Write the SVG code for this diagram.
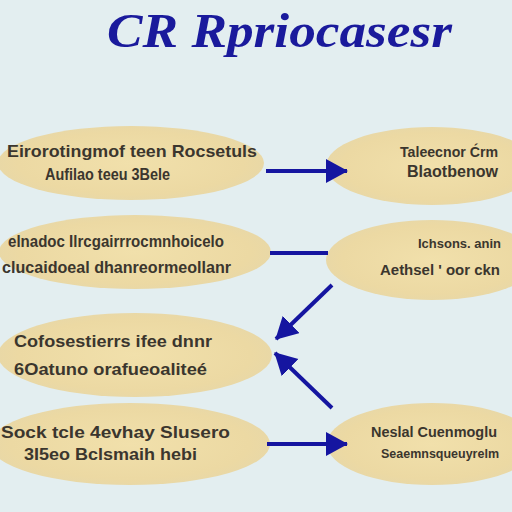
<svg xmlns="http://www.w3.org/2000/svg" width="512" height="512" viewBox="0 0 512 512">
<defs>
<radialGradient id="eg" cx="50%" cy="50%" r="50%">
<stop offset="0" stop-color="#f1e0ab"/>
<stop offset="0.85" stop-color="#ecd9a3"/>
<stop offset="1" stop-color="#e9d8a6"/>
</radialGradient>
<marker id="ah" markerUnits="userSpaceOnUse" markerWidth="24" markerHeight="26" refX="21" refY="12" orient="auto">
<path d="M0,0 L22,12 L0,24 z" fill="#1515a0"/>
</marker>
<style>
.bg{fill:#e3eef0}
.el{fill:url(#eg)}
.t{font-family:"Liberation Sans",Arial,sans-serif;font-size:17px;font-weight:bold;fill:#3b362e}
.title{font-family:"Liberation Serif","Times New Roman",serif;font-size:48px;font-weight:bold;font-style:italic;fill:#1a1a9c}
.c{stroke:#1515a0;stroke-width:4;fill:none}
</style>
</defs>
<rect class="bg" x="0" y="0" width="512" height="512"/>
<text class="title" x="107" y="47" textLength="345" lengthAdjust="spacingAndGlyphs">CR Rpriocasesr</text>
<g id="node1">
<ellipse class="el" cx="131" cy="163" rx="133" ry="37"/>
<text class="t" x="7" y="157" textLength="250" lengthAdjust="spacingAndGlyphs">Eirorotingmof teen Rocsetuls</text>
<text class="t" x="45" y="180" textLength="125" lengthAdjust="spacingAndGlyphs">Aufilao teeu 3Bele</text>
</g>
<g id="node2">
<ellipse class="el" cx="432" cy="166" rx="106" ry="39"/>
<text class="t" x="400" y="157" style="font-size:14px" textLength="98" lengthAdjust="spacingAndGlyphs">Taleecnor Ćrm</text>
<text class="t" x="407" y="177" style="font-size:16px" textLength="91" lengthAdjust="spacingAndGlyphs">Blaotbenow</text>
</g>
<g id="node3">
<ellipse class="el" cx="135" cy="252" rx="136" ry="37"/>
<text class="t" x="8" y="247" textLength="216" lengthAdjust="spacingAndGlyphs">elnadoc Ilrcgairrrocmnhoicelo</text>
<text class="t" x="2" y="273" textLength="229" lengthAdjust="spacingAndGlyphs">clucaidoeal dhanreormeollanr</text>
</g>
<g id="node4">
<ellipse class="el" cx="432" cy="260" rx="106" ry="40"/>
<text class="t" x="418" y="248" style="font-size:13px" textLength="83" lengthAdjust="spacingAndGlyphs">Ichsons. anin</text>
<text class="t" x="380" y="275" style="font-size:15px" textLength="120" lengthAdjust="spacingAndGlyphs">Aethsel ' oor ckn</text>
</g>
<g id="node5">
<ellipse class="el" cx="135" cy="355" rx="137" ry="42"/>
<text class="t" x="14" y="347" textLength="198" lengthAdjust="spacingAndGlyphs">Cofosestierrs ifee dnnr</text>
<text class="t" x="14" y="375" textLength="193" lengthAdjust="spacingAndGlyphs">6Oatuno orafueoaliteé</text>
</g>
<g id="node6">
<ellipse class="el" cx="130" cy="444" rx="140" ry="41"/>
<text class="t" x="1" y="438" textLength="229" lengthAdjust="spacingAndGlyphs">Sock tcle 4evhay Slusero</text>
<text class="t" x="24" y="460" textLength="173" lengthAdjust="spacingAndGlyphs">3I5eo Bclsmaih hebi</text>
</g>
<g id="node7">
<ellipse class="el" cx="432" cy="444" rx="105" ry="41"/>
<text class="t" x="371" y="437" style="font-size:14.5px" textLength="126" lengthAdjust="spacingAndGlyphs">Neslal Cuenmoglu</text>
<text class="t" x="381" y="458" style="font-size:12.5px" textLength="118" lengthAdjust="spacingAndGlyphs">Seaemnsqueuyrelm</text>
</g>
<g id="connectors">
<line class="c" x1="266" y1="171" x2="347" y2="171" marker-end="url(#ah)"/>
<line class="c" x1="270" y1="253" x2="328" y2="253"/>
<line class="c" x1="332" y1="285" x2="276" y2="339" marker-end="url(#ah)"/>
<line class="c" x1="332" y1="408" x2="275" y2="353" marker-end="url(#ah)"/>
<line class="c" x1="267" y1="444" x2="347" y2="444" marker-end="url(#ah)"/>
</g>
</svg>
